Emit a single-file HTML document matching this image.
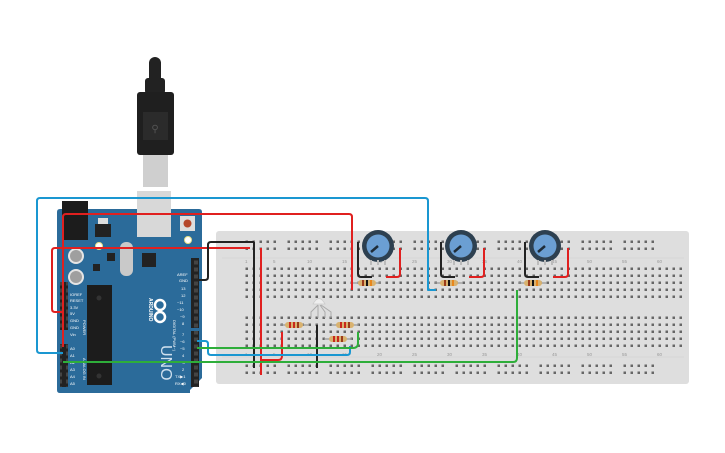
<!DOCTYPE html>
<html><head><meta charset="utf-8"><style>
html,body{margin:0;padding:0;background:#fff;width:725px;height:453px;overflow:hidden}
svg{display:block}
text{font-family:"Liberation Sans",sans-serif}
</style></head><body>
<svg width="725" height="453" viewBox="0 0 725 453" xmlns="http://www.w3.org/2000/svg">
<defs>
<pattern id="dots" x="243.5" y="265.5" width="7" height="7" patternUnits="userSpaceOnUse"><rect x="2" y="2" width="2.5" height="2.5" fill="#666"/></pattern>
<pattern id="rail" x="243.5" y="238.5" width="42" height="7" patternUnits="userSpaceOnUse"><g fill="#666"><rect x="2" y="2" width="2.5" height="2.5"/><rect x="9" y="2" width="2.5" height="2.5"/><rect x="16" y="2" width="2.5" height="2.5"/><rect x="23" y="2" width="2.5" height="2.5"/><rect x="30" y="2" width="2.5" height="2.5"/></g></pattern>
<pattern id="rail2" x="243.5" y="362.5" width="42" height="7" patternUnits="userSpaceOnUse"><g fill="#666"><rect x="2" y="2" width="2.5" height="2.5"/><rect x="9" y="2" width="2.5" height="2.5"/><rect x="16" y="2" width="2.5" height="2.5"/><rect x="23" y="2" width="2.5" height="2.5"/><rect x="30" y="2" width="2.5" height="2.5"/></g></pattern>
<pattern id="hdr" x="0" y="0" width="8" height="7" patternUnits="userSpaceOnUse"><rect width="8" height="7" fill="#222"/><rect x="2" y="1.5" width="4" height="4" fill="#444"/></pattern>
<g id="res"><line x1="-14" y1="0" x2="14" y2="0" stroke="#999" stroke-width="1.2"/><rect x="-9" y="-3" width="18" height="6" rx="3" fill="#d9b26f"/><rect x="-5" y="-3" width="2" height="6" fill="#9b3b1b"/><rect x="-1" y="-3" width="2" height="6" fill="#111"/><rect x="3" y="-3" width="2" height="6" fill="#e8861c"/></g>
<g id="resr"><line x1="-14" y1="0" x2="14" y2="0" stroke="#999" stroke-width="1.2"/><rect x="-9" y="-3" width="18" height="6" rx="3" fill="#d9b26f"/><rect x="-5" y="-3" width="2" height="6" fill="#c8281e"/><rect x="-1" y="-3" width="2" height="6" fill="#c8281e"/><rect x="3" y="-3" width="2" height="6" fill="#9b3b1b"/></g>
<g id="pot"><circle r="16" fill="#2d4050"/><circle r="11.5" fill="#6b9fd3"/><line x1="0" y1="0" x2="-7" y2="6" stroke="#1e2c38" stroke-width="2.5"/><g fill="#bbb"><rect x="-8" y="14" width="2" height="5"/><rect x="-1" y="14" width="2" height="5"/><rect x="6" y="14" width="2" height="5"/></g></g>
</defs>

<rect x="216" y="231" width="473" height="153" rx="3" fill="#dedede"/>
<rect x="243" y="238" width="420" height="14" fill="url(#rail)"/>
<rect x="243" y="362" width="420" height="14" fill="url(#rail2)"/>
<rect x="243" y="265" width="441" height="35" fill="url(#dots)"/>
<rect x="243" y="314" width="441" height="35" fill="url(#dots)"/>
<line x1="222" y1="258" x2="684" y2="258" stroke="#ccc" stroke-width="0.6"/>
<line x1="222" y1="357" x2="684" y2="357" stroke="#ccc" stroke-width="0.6"/>
<g font-size="4.5" fill="#999">
<text x="245" y="263">1</text><text x="273" y="263">5</text><text x="307" y="263">10</text><text x="342" y="263">15</text><text x="377" y="263">20</text><text x="412" y="263">25</text><text x="447" y="263">30</text><text x="482" y="263">35</text><text x="517" y="263">40</text><text x="552" y="263">45</text><text x="587" y="263">50</text><text x="622" y="263">55</text><text x="657" y="263">60</text>
<text x="245" y="356">1</text><text x="273" y="356">5</text><text x="307" y="356">10</text><text x="342" y="356">15</text><text x="377" y="356">20</text><text x="412" y="356">25</text><text x="447" y="356">30</text><text x="482" y="356">35</text><text x="517" y="356">40</text><text x="552" y="356">45</text><text x="587" y="356">50</text><text x="622" y="356">55</text><text x="657" y="356">60</text>
</g>

<rect x="149" y="57" width="12" height="30" rx="6" fill="#222"/>
<rect x="145" y="78" width="20" height="16" rx="3" fill="#222"/>
<rect x="137" y="92" width="37" height="63" rx="3" fill="#1f1f1f"/>
<rect x="143" y="112" width="25" height="28" fill="#2b2b2b"/>
<text x="155" y="132" font-size="10" fill="#555" text-anchor="middle">⚲</text>
<rect x="143" y="155" width="25" height="32" fill="#cfcfcf"/>

<path d="M60,209 H199 Q202,209 202,212 V378 L190,390 V393 H60 Q57,393 57,390 V212 Q57,209 60,209 Z" fill="#2b6b9a"/>
<rect x="62" y="201" width="26" height="39" fill="#1c1c1c"/>
<rect x="137" y="191" width="34" height="46" fill="#d8d8d8"/>
<rect x="180" y="216" width="15" height="15" fill="#ddd"/><circle cx="187.5" cy="223.5" r="4" fill="#b5472a"/>
<rect x="95" y="224" width="16" height="13" fill="#222"/>
<rect x="98" y="218" width="10" height="6" fill="#ddd"/>
<circle cx="76" cy="256" r="8" fill="#e5e5e5"/><circle cx="76" cy="256" r="6" fill="#1e1e1e" opacity=".35"/>
<circle cx="76" cy="277" r="8" fill="#e5e5e5"/><circle cx="76" cy="277" r="6" fill="#1e1e1e" opacity=".35"/>
<rect x="120" y="242" width="13" height="34" rx="6" fill="#c9c9c9"/>
<rect x="107" y="253" width="8" height="8" fill="#222"/>
<rect x="93" y="264" width="7" height="7" fill="#222"/>
<rect x="142" y="253" width="14" height="14" fill="#222"/>
<rect x="87" y="285" width="25" height="100" fill="#1c1c1c"/>
<circle cx="99" cy="298" r="2.5" fill="#333"/><circle cx="99" cy="376" r="2.5" fill="#333"/>
<rect x="191" y="258" width="8" height="70" fill="url(#hdr)"/>
<rect x="191" y="331" width="8" height="56" fill="url(#hdr)"/>
<rect x="60" y="282" width="8" height="48" fill="url(#hdr)"/>
<rect x="60" y="344" width="8" height="43" fill="url(#hdr)"/>
<circle cx="99" cy="246" r="3.5" fill="#fff" stroke="#e8e088"/>
<circle cx="188" cy="240" r="3.5" fill="#fff" stroke="#e8e088"/>
<circle cx="76" cy="398" r="3.5" fill="#fff"/><circle cx="153" cy="398" r="3.5" fill="#fff"/>
<g font-size="4" fill="#fff">
<text x="177" y="276">AREF</text><text x="179" y="282">GND</text><text x="181" y="290">13</text><text x="181" y="297">12</text><text x="177" y="304">~11</text><text x="177" y="311">~10</text><text x="180" y="318">~9</text><text x="182" y="325">8</text>
<text x="182" y="336">7</text><text x="180" y="343">~6</text><text x="180" y="350">~5</text><text x="182" y="357">4</text><text x="180" y="364">~3</text><text x="182" y="371">2</text><text x="175" y="378">TX▶1</text><text x="175" y="385">RX◀0</text>
<text x="70" y="296">IOREF</text><text x="70" y="302">RESET</text><text x="70" y="309">3.3V</text><text x="70" y="315">5V</text><text x="70" y="322">GND</text><text x="70" y="329">GND</text><text x="70" y="336">Vin</text>
<text x="70" y="350">A0</text><text x="70" y="357">A1</text><text x="70" y="364">A2</text><text x="70" y="371">A3</text><text x="70" y="378">A4</text><text x="70" y="385">A5</text>
</g>
<text transform="translate(161,345) rotate(90)" font-size="16" fill="#cfe0ee">UNO</text>
<text transform="translate(149,298) rotate(90)" font-size="5" fill="#fff" font-weight="bold">ARDUINO</text>
<g fill="none" stroke="#fff" stroke-width="2.5"><circle cx="160" cy="305" r="5"/><circle cx="160" cy="317" r="5"/></g>
<text transform="translate(173,320) rotate(90)" font-size="4" fill="#fff">DIGITAL (PWM~)</text>
<text transform="translate(83,320) rotate(90)" font-size="4" fill="#fff">POWER</text>
<text transform="translate(83,358) rotate(90)" font-size="4" fill="#fff">ANALOG IN</text>

<use href="#pot" x="378" y="246"/><use href="#pot" x="461" y="246"/><use href="#pot" x="545" y="246"/>

<use href="#res" x="367" y="283"/><use href="#res" x="449" y="283"/><use href="#res" x="533" y="283"/>
<use href="#resr" x="294" y="325"/><use href="#resr" x="345" y="325"/><use href="#resr" x="338" y="339"/>
<g stroke="#aaa" stroke-width="1" fill="none"><path d="M318,305 L311,312 V318"/><path d="M318,305 V318"/><path d="M320,305 L325,312 V318"/><path d="M321,305 L331,312 V318"/></g>
<path d="M313,304 Q319,293 325,304 Z" fill="#eee" stroke="#ccc" stroke-width=".8"/>

<g fill="none" stroke-width="2" stroke-linejoin="round">
<path d="M63,353 H40 Q37,353 37,350 V201 Q37,198 40,198 H425 Q428,198 428,201 V290 H436" stroke="#1a97d1"/>
<path d="M63,347 V217 Q63,214 66,214 H349 Q352,214 352,217 V290" stroke="#e0201f"/>
<path d="M63,312 H55 Q52,312 52,309 V251 Q52,248 55,248 H250" stroke="#e0201f"/>
<path d="M197,280 H205 Q208,280 208,277 V245 Q208,242 211,242 H254" stroke="#222"/>
<line x1="254" y1="242" x2="254" y2="368" stroke="#222"/>
<line x1="261" y1="248" x2="261" y2="375" stroke="#e0201f"/>
<path d="M282,332 V356 Q282,360 278,360 H261" stroke="#e0201f"/>
<line x1="317" y1="325" x2="317" y2="368" stroke="#222"/>
<path d="M197,341 H205 Q208,341 208,344 V352 Q208,355 211,355 H347 Q350,355 350,352 V346" stroke="#1a97d1"/>
<path d="M197,348 H353 Q358,348 358,343 V332" stroke="#2eae3a"/>
<path d="M63,362 H513 Q517,362 517,358 V290" stroke="#2eae3a"/>
<path d="M358,242 V274 Q358,277 361,277 H372" stroke="#222"/>
<path d="M400,248 V274 Q400,277 397,277 H386" stroke="#e0201f"/>
<path d="M441,242 V274 Q441,277 444,277 H455" stroke="#222"/>
<path d="M484,248 V274 Q484,277 481,277 H469" stroke="#e0201f"/>
<path d="M525,242 V274 Q525,277 528,277 H539" stroke="#222"/>
<path d="M568,248 V274 Q568,277 565,277 H553" stroke="#e0201f"/>
</g>
</svg>
</body></html>
